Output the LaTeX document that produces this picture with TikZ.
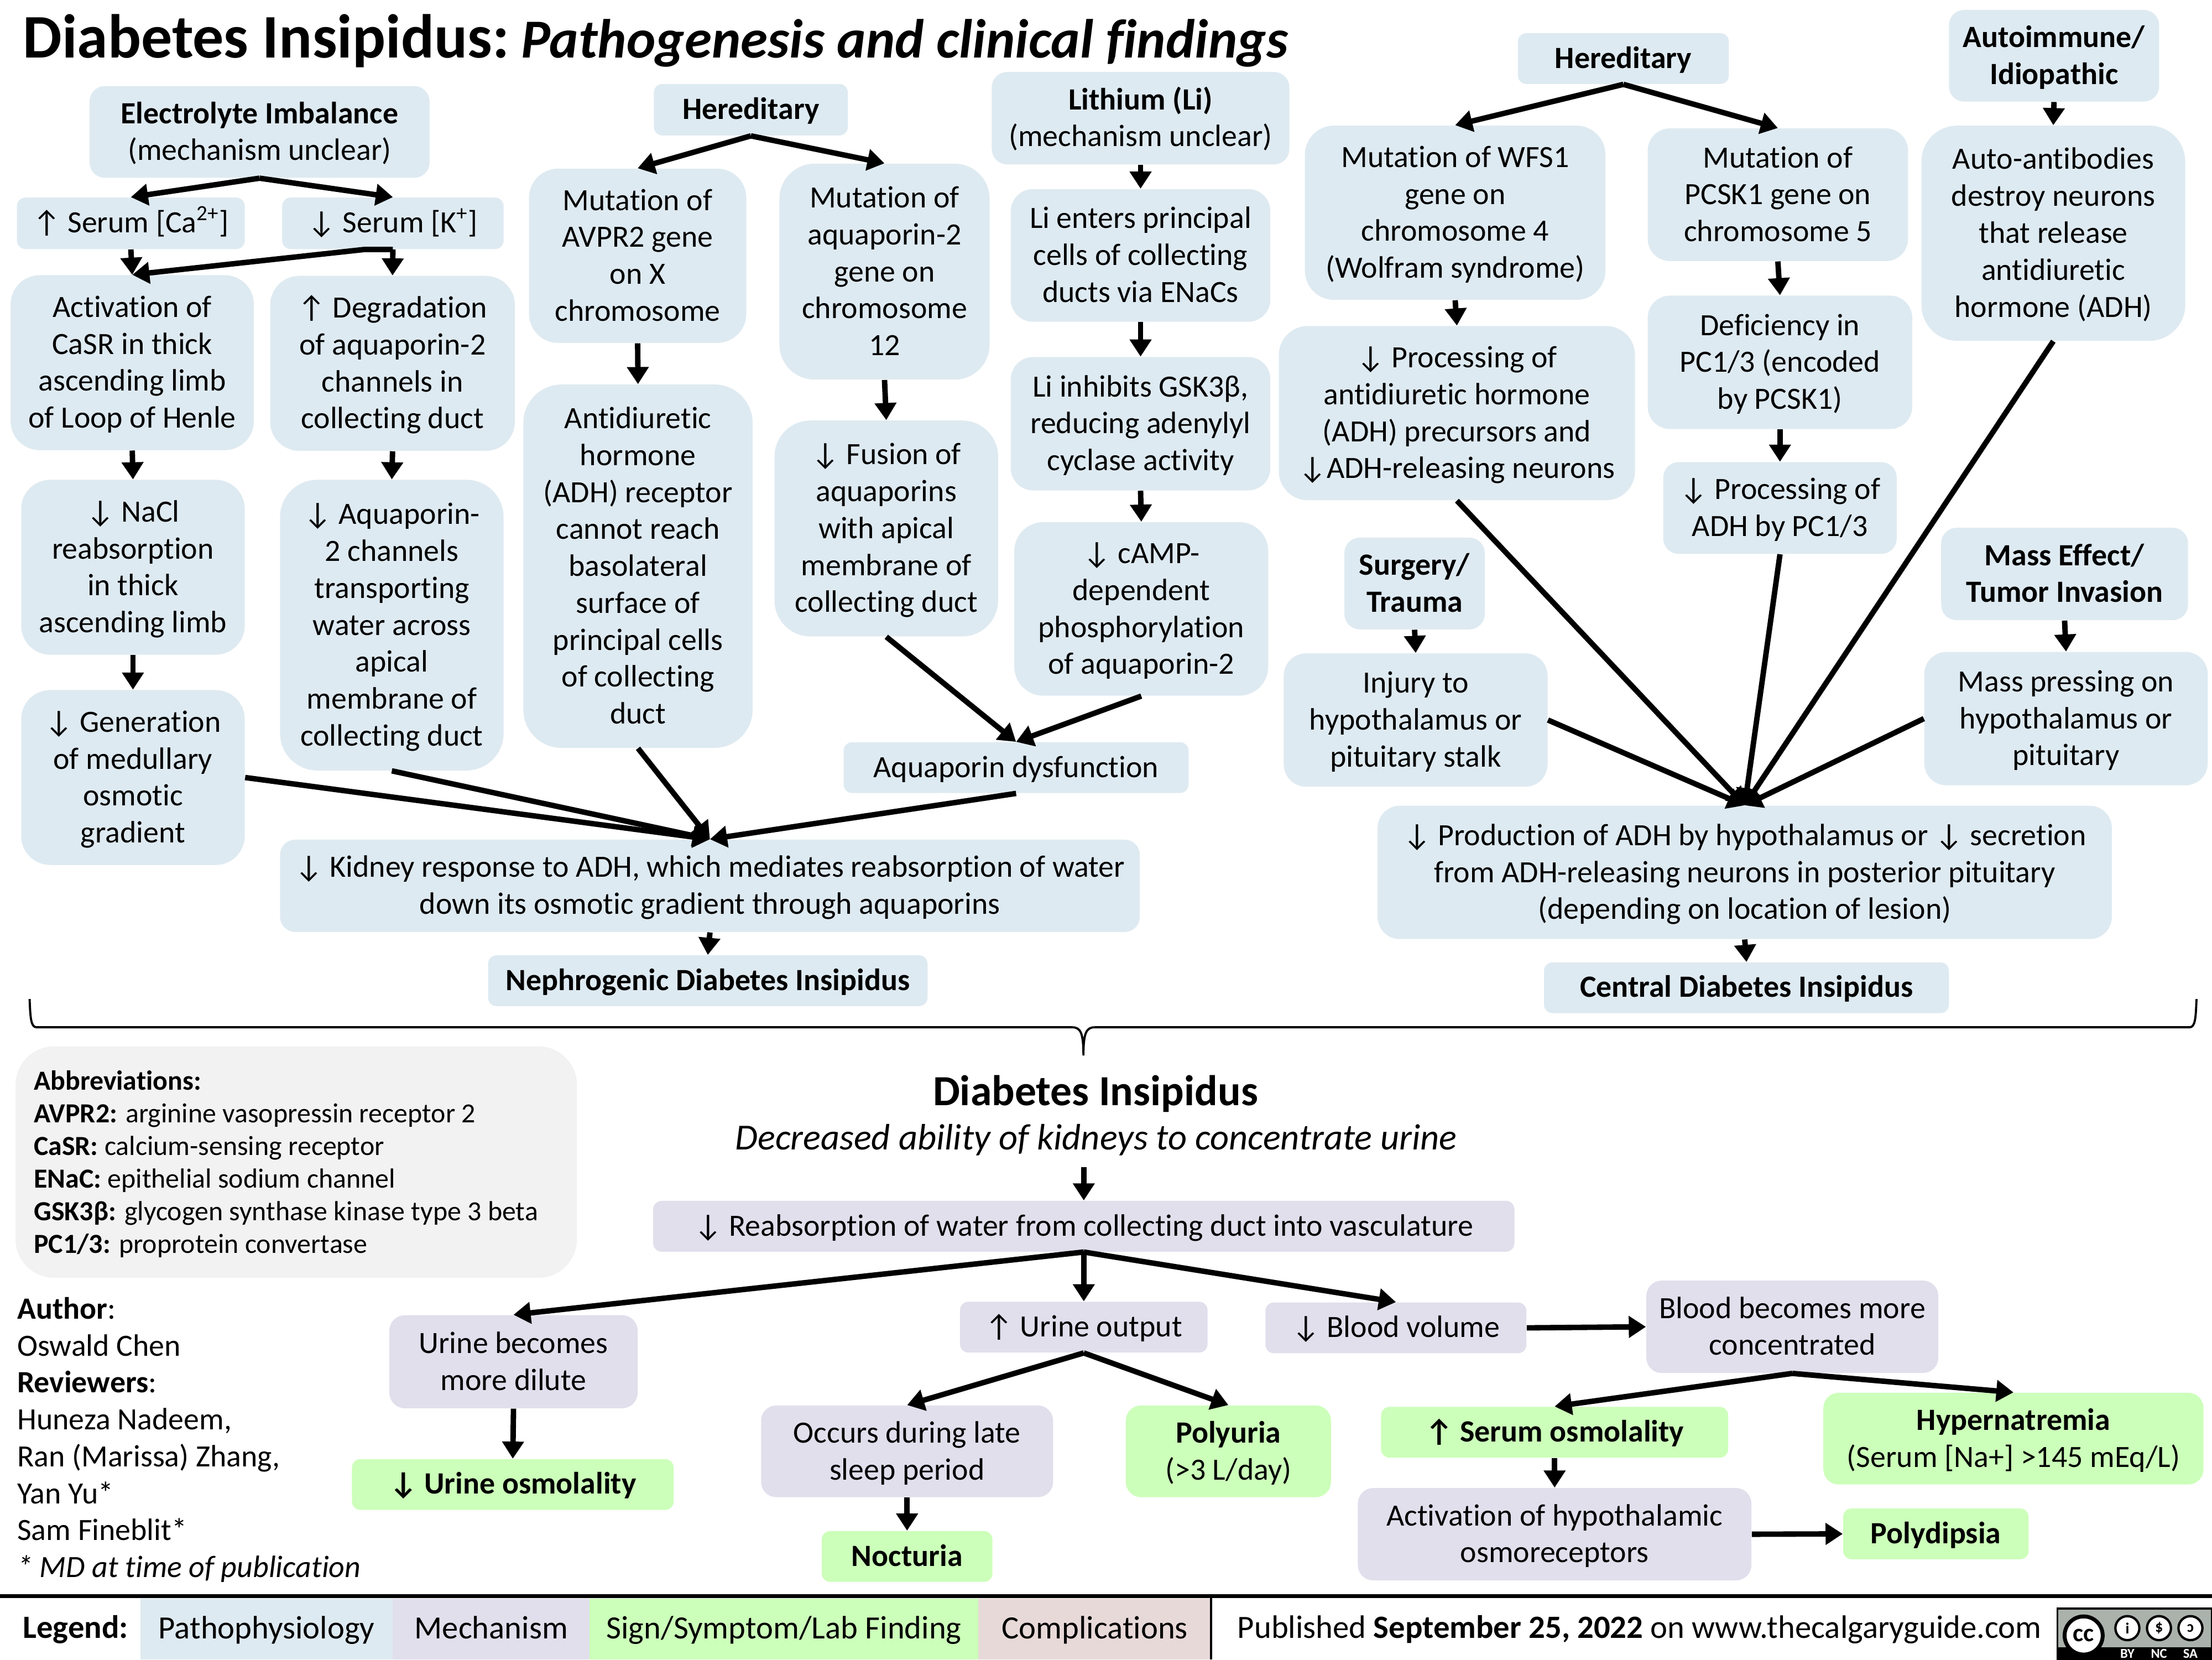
\documentclass[tikz,border=0pt]{standalone}
\usepackage{fontspec}
\setmainfont{Carlito}[Ligatures=NoCommon]
\usetikzlibrary{arrows.meta}
\definecolor{pathoblue}{HTML}{DEEAF1}
\definecolor{mechpurple}{HTML}{E1DFEC}
\definecolor{signgreen}{HTML}{CCFFBA}
\definecolor{compred}{HTML}{E8D9D9}
\definecolor{abbrgrey}{HTML}{F2F2F2}
\definecolor{ccgrey}{HTML}{AAB2AB}
\def\unit{0.0255102cm}
\newcommand{\topline}{\rule{0pt}{13.9pt}}
\tikzset{wh/.style 2 args={minimum width=#1*\unit, minimum height=#2*\unit, rounded corners={min(#1,#2)/6*\unit}}}
\tikzstyle{basebox} = [rectangle, inner sep=0pt, align=center, font=\fontsize{15.9}{19}\selectfont, execute at begin node={\rule{0pt}{13.5pt}}, execute at end node={\rule[-3.7pt]{0pt}{0pt}}]
\tikzstyle{patho}   = [basebox, fill=pathoblue]
\tikzstyle{mech}    = [basebox, fill=mechpurple]
\tikzstyle{sign}    = [basebox, fill=signgreen]
\tikzstyle{legcell} = [basebox, minimum height=43*\unit, font=\fontsize{16.7}{19}\selectfont]
\tikzstyle{plain}   = [inner sep=0pt, align=left, font=\fontsize{15.9}{19}\selectfont]
\tikzstyle{line}    = [draw, line width=2.8pt, -{Triangle[length=0.31cm, width=0.38cm]}]
\tikzstyle{ccicon}  = [circle, draw=black, fill=white, line width=1.2pt, inner sep=0pt, minimum size=17*\unit, font=\bfseries\fontsize{8}{8}\selectfont]
\tikzstyle{cctext}  = [text=white, inner sep=0pt, font=\bfseries\fontsize{7}{7}\selectfont]

\begin{document}
\begin{tikzpicture}[x=0.0255102cm, y=-0.0255102cm]
        \useasboundingbox (0,0) rectangle (1568,1176);

        % title
        \node [plain, anchor=base west, font=\bfseries\fontsize{31.9}{34}\selectfont] (title) at (16,41) {Diabetes Insipidus:\hspace{-3.5pt} \textit{\fontsize{28.3}{34}\selectfont Pathogenesis and clinical findings}};

        % nephrogenic side
        \node [patho, wh={241}{65}] (electrolyte) at (184,93.5) {\topline\textbf{Electrolyte Imbalance}\\(mechanism unclear)};
        \node [patho, wh={161.5}{36.5}] (calcium) at (92.75,158.25) {↑ Serum [Ca\textsuperscript{2+}]};
        \node [patho, wh={157}{36.5}] (potassium) at (278.5,158.25) {↓ Serum [K\textsuperscript{+}]};
        \node [patho, wh={172.5}{124}] (casr) at (93.75,257) {\topline Activation of\\CaSR in thick\\ascending limb\\of Loop of Henle};
        \node [patho, wh={173.5}{124}] (degrade) at (278.25,257.5) {\topline ↑ Degradation\\of aquaporin-2\\channels in\\collecting duct};
        \node [patho, wh={158.5}{124}] (nacl) at (94.25,402) {\topline ↓ NaCl\\reabsorption\\in thick\\ascending limb};
        \node [patho, wh={158.5}{206}] (aqchannel) at (277.75,443) {\topline ↓ Aquaporin-\\2 channels\\transporting\\water across\\apical\\membrane of\\collecting duct};
        \node [patho, wh={158.5}{124}] (gradient) at (94.25,551) {\topline ↓ Generation\\of medullary\\osmotic\\gradient};
        \node [patho, wh={137.5}{36.5}] (hered1) at (532.25,77.75) {\textbf{Hereditary}};
        \node [patho, wh={154}{123.5}] (avpr) at (452,181.25) {\topline Mutation of\\AVPR2 gene\\on X\\chromosome};
        \node [patho, wh={149}{153}] (aqmut) at (627,192.5) {\topline Mutation of\\aquaporin-2\\gene on\\chromosome\\12};
        \node [patho, wh={162.5}{257.5}] (adhrec) at (452.25,401.25) {\topline Antidiuretic\\hormone\\(ADH) receptor\\cannot reach\\basolateral\\surface of\\principal cells\\of collecting\\duct};
        \node [patho, wh={158.5}{153}] (fusion) at (628.25,374.5) {\topline ↓ Fusion of\\aquaporins\\with apical\\membrane of\\collecting duct};
        \node [patho, wh={211}{65.5}] (lithium) at (808.5,83.75) {\topline\textbf{Lithium (Li)}\\(mechanism unclear)};
        \node [patho, wh={184}{94}] (lienter) at (808.5,181) {\topline Li enters principal\\cells of collecting\\ducts via ENaCs};
        \node [patho, wh={184}{94.5}] (liinhib) at (808.5,300.25) {\topline Li inhibits GSK3β,\\reducing adenylyl\\cyclase activity};
        \node [patho, wh={180}{123}] (camp) at (809,431.5) {\topline ↓ cAMP-\\dependent\\phosphorylation\\of aquaporin-2};
        \node [patho, wh={244.5}{36}] (aqdys) at (720.25,544) {Aquaporin dysfunction};
        \node [patho, wh={609.5}{65.5}] (kidney) at (503.25,627.75) {\topline ↓ Kidney response to ADH, which mediates reabsorption of water\\down its osmotic gradient through aquaporins};
        \node [patho, wh={311.5}{36}] (nephro) at (501.75,695) {\textbf{Nephrogenic Diabetes Insipidus}};

        % central side
        \node [patho, wh={149.5}{36}] (hered2) at (1150.75,41.5) {\textbf{Hereditary}};
        \node [patho, wh={213}{123.5}] (wfs) at (1031.5,150.75) {\topline Mutation of WFS1\\gene on\\chromosome 4\\(Wolfram syndrome)};
        \node [patho, wh={184.5}{94}] (pcsk) at (1260.25,138) {\topline Mutation of\\PCSK1 gene on\\chromosome 5};
        \node [patho, wh={252.5}{123.5}] (procadh) at (1032.75,292.75) {\topline ↓ Processing of\\antidiuretic hormone\\(ADH) precursors and\\↓ADH-releasing neurons};
        \node [patho, wh={187.5}{94.5}] (defic) at (1261.75,256.75) {\topline Deficiency in\\PC1/3 (encoded\\by PCSK1)};
        \node [patho, wh={165.5}{65}] (procpc) at (1261.75,360) {\topline ↓ Processing of\\ADH by PC1/3};
        \node [patho, wh={149}{65}] (autoimm) at (1456,39.5) {\topline\textbf{Autoimmune/}\\\textbf{Idiopathic}};
        \node [patho, wh={187}{152.5}] (antibody) at (1455.5,165.25) {\topline Auto-antibodies\\destroy neurons\\that release\\antidiuretic\\hormone (ADH)};
        \node [patho, wh={99.5}{65}] (surgery) at (1002.75,413.5) {\topline\textbf{Surgery/}\\\textbf{Trauma}};
        \node [patho, wh={187}{94.5}] (injury) at (1003.5,510.25) {\topline Injury to\\hypothalamus or\\pituitary stalk};
        \node [patho, wh={175}{65.5}] (masseff) at (1463.5,406.75) {\topline\textbf{Mass Effect/}\\\textbf{Tumor Invasion}};
        \node [patho, wh={201}{94.5}] (masspress) at (1464.5,509.25) {\topline Mass pressing on\\hypothalamus or\\pituitary};
        \node [patho, wh={520.5}{94.5}] (product) at (1236.75,618.25) {\topline ↓ Production of ADH by hypothalamus or ↓ secretion\\from ADH-releasing neurons in posterior pituitary\\(depending on location of lesion)};
        \node [patho, wh={287}{36}] (central) at (1238,700) {\textbf{Central Diabetes Insipidus}};

        % brace
        \draw [line width=1.1pt] (21,708) .. controls (21.5,722) and (22,728) .. (26,728) -- (760,728) .. controls (766,728) and (768,732) .. (768,748) .. controls (768,732) and (770,728) .. (776,728) -- (1552,728) .. controls (1556,728) and (1556.5,722) .. (1557,708);

        % lower half
        \node [basebox, fill=abbrgrey, wh={398}{164}, align=flush left, text width=372*\unit, font=\fontsize{14.2}{16.8}\selectfont] (abbrev) at (210,823.5) {\textbf{Abbreviations:}\\\textbf{AVPR2:} arginine vasopressin receptor 2\\\textbf{CaSR:} calcium-sensing receptor\\\textbf{ENaC:} epithelial sodium channel\\\textbf{GSK3β:} glycogen synthase kinase type 3 beta\\\textbf{PC1/3:} proprotein convertase};
        \node [plain, anchor=north west] (authors) at (12,919) {\textbf{Author}:\\Oswald Chen\\\textbf{Reviewers}:\\Huneza Nadeem,\\Ran (Marissa) Zhang,\\Yan Yu*\\Sam Fineblit*\\\textit{* MD at time of publication}};
        \node [plain, font=\bfseries\fontsize{22.1}{26}\selectfont] (dihead) at (776.5,775) {Diabetes Insipidus};
        \node [plain, minimum height=38*\unit, font=\itshape\fontsize{18.9}{22}\selectfont] (disub) at (777,808) {Decreased ability of kidneys to concentrate urine};
        \node [mech, wh={610.5}{36}] (reabs) at (768.25,869) {↓ Reabsorption of water from collecting duct into vasculature};
        \node [mech, wh={176}{66}] (dilute) at (364,965) {\topline Urine becomes\\more dilute};
        \node [sign, wh={228}{36}] (uosm) at (363.5,1052) {\textbf{↓ Urine osmolality}};
        \node [mech, wh={175.5}{36}] (uoutput) at (768.25,940.5) {↑ Urine output};
        \node [mech, wh={207}{65}] (occurs) at (643,1028.5) {\topline Occurs during late\\sleep period};
        \node [sign, wh={121}{36}] (nocturia) at (643,1103) {\textbf{Nocturia}};
        \node [sign, wh={145.5}{65}] (polyuria) at (870.75,1028.5) {\topline\textbf{Polyuria}\\(>3 L/day)};
        \node [mech, wh={185}{36}] (bvolume) at (989.5,941) {↓ Blood volume};
        \node [mech, wh={207}{65.5}] (bconc) at (1270.5,940.25) {\topline Blood becomes more\\concentrated};
        \node [sign, wh={246}{36}] (sosm) at (1102,1015) {\textbf{↑ Serum osmolality}};
        \node [sign, wh={269.5}{65}] (hyper) at (1427.25,1019.5) {\topline\textbf{Hypernatremia}\\(Serum [Na+] >145 mEq/L)};
        \node [mech, wh={279}{65.5}] (osmorec) at (1102,1087.25) {\topline Activation of hypothalamic\\osmoreceptors};
        \node [sign, wh={131.5}{36}] (polydip) at (1372.25,1087) {\textbf{Polydipsia}};

        % connectors
        \path [line] (electrolyte.south) -- (calcium.north);
        \path [line] (electrolyte.south) -- (potassium.north);
        \path [line] (calcium.south) -- (casr.north);
        \path [line] (potassium.south) -- ++(-20,0) -- (casr.north);
        \path [line] (potassium.south) -- (degrade.north);
        \path [line] (casr.south) -- (nacl.north);
        \path [line] (nacl.south) -- (gradient.north);
        \path [line] (degrade.south) -- (aqchannel.north);
        \path [line] (hered1.south) -- (avpr.north);
        \path [line] (hered1.south) -- (aqmut.north);
        \path [line] (avpr.south) -- (adhrec.north);
        \path [line] (aqmut.south) -- (fusion.north);
        \path [line] (lithium.south) -- (lienter.north);
        \path [line] (lienter.south) -- (liinhib.north);
        \path [line] (liinhib.south) -- (camp.north);
        \path [line] (fusion.south) -- (aqdys.north);
        \path [line] (camp.south) -- (aqdys.north);
        \path [line] (gradient.east) -- (kidney.north);
        \path [line] (aqchannel.south) -- (kidney.north);
        \path [line] (adhrec.south) -- (kidney.north);
        \path [line] (aqdys.south) -- (kidney.north);
        \path [line] (kidney.south) -- (nephro.north);
        \path [line] (hered2.south) -- (wfs.north);
        \path [line] (hered2.south) -- (pcsk.north);
        \path [line] (wfs.south) -- (procadh.north);
        \path [line] (pcsk.south) -- (defic.north);
        \path [line] (defic.south) -- (procpc.north);
        \path [line] (autoimm.south) -- (antibody.north);
        \path [line] (surgery.south) -- (injury.north);
        \path [line] (masseff.south) -- (masspress.north);
        \path [line] (procadh.south) -- (product.north);
        \path [line] (procpc.south) -- (product.north);
        \path [line] (antibody.south) -- (product.north);
        \path [line] (injury.east) -- (product.north);
        \path [line] (masspress.west) -- (product.north);
        \path [line] (product.south) -- (central.north);
        \path [line] (reabs.north |- disub.south) -- (reabs.north);
        \path [line] (reabs.south) -- (dilute.north);
        \path [line] (reabs.south) -- (uoutput.north);
        \path [line] (reabs.south) -- (bvolume.north);
        \path [line] (dilute.south) -- (uosm.north);
        \path [line] (uoutput.south) -- (occurs.north);
        \path [line] (uoutput.south) -- (polyuria.north);
        \path [line] (occurs.south) -- (nocturia.north);
        \path [line] (bvolume.east) -- (bconc.west);
        \path [line] (bconc.south) -- (sosm.north);
        \path [line] (bconc.south) -- (hyper.north);
        \path [line] (sosm.south) -- (osmorec.north);
        \path [line] (osmorec.east) -- (polydip.west);

        % legend
        \node [plain, anchor=base west, font=\bfseries\fontsize{16.7}{19}\selectfont] (legend) at (16,1161) {Legend:};
        \node [legcell, fill=pathoblue, minimum width=179*\unit] (legpatho) at (189,1154.5) {Pathophysiology};
        \node [legcell, fill=mechpurple, minimum width=139.5*\unit] (legmech) at (348.25,1154.5) {Mechanism};
        \node [legcell, fill=signgreen, minimum width=275.5*\unit] (legsign) at (555.75,1154.5) {Sign/Symptom/Lab Finding};
        \node [legcell, fill=compred, minimum width=165*\unit] (legcomp) at (776,1154.5) {Complications};
        \node [plain, anchor=base west, font=\fontsize{16.7}{19}\selectfont] (published) at (877,1161) {Published \textbf{September 25, 2022} on www.thecalgaryguide.com};
        \draw [line width=2pt] (0,1131) -- (1568,1131);
        \draw [line width=1pt] (858.5,1131) -- (858.5,1176);

        % licence badge
        \draw [fill=ccgrey, draw=black, line width=1pt] (1568,1176) -- (1458.5,1176) -- (1458.5,1140) -- (1568,1140) -- cycle;
        \fill [black] (1458.5,1167.4) rectangle (1568,1176);
        \node [ccicon, minimum size=27*\unit, line width=2pt, font=\bfseries\fontsize{13}{13}\selectfont] (ccmain) at (1477,1159) {cc};
        \node [ccicon] (ccby) at (1508,1153.8) {i};
        \node [ccicon] (ccnc) at (1530.4,1153.8) {\$};
        \node [ccicon] (ccsa) at (1552.7,1153.8) {ↄ};
        \node [cctext] (txtby) at (1508,1172) {BY};
        \node [cctext] (txtnc) at (1530.4,1172) {NC};
        \node [cctext] (txtsa) at (1552.7,1172) {SA};
      \end{tikzpicture}
\end{document}
